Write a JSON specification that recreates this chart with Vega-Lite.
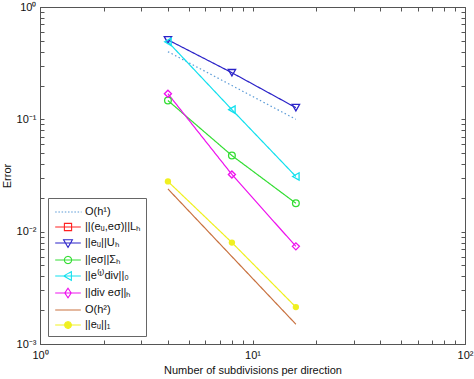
{
  "$schema": "https://vega.github.io/schema/vega-lite/v6.json",
  "autosize": "none",
  "width": 425,
  "height": 337,
  "padding": {"left": 40, "top": 7, "right": 9, "bottom": 35},
  "background": "white",
  "config": {
    "font": "Liberation Sans",
    "view": {"stroke": "#555555", "strokeWidth": 1},
    "axis": {"grid": false, "domainColor": "#555555", "tickColor": "#555555", "labelColor": "#111111", "titleColor": "#111111", "labelFont": "Liberation Sans", "titleFont": "Liberation Sans", "labelFontSize": 11, "titleFontSize": 11, "titleFontWeight": "normal"},
    "legend": {"orient": "bottom-left", "offset": 8, "padding": 5, "strokeColor": "#666666", "fillColor": "white", "symbolSize": 256, "symbolStrokeWidth": 1.1, "symbolOffset": 6, "rowPadding": 1, "labelOffset": 8, "labelFont": "Liberation Sans", "labelFontSize": 11, "labelColor": "#111111"}
  },
  "data": {"values": [
    {"series": "O(h¹)", "n": 4, "err": 0.4},
    {"series": "O(h¹)", "n": 8, "err": 0.2},
    {"series": "O(h¹)", "n": 16, "err": 0.1},
    {"series": "||eᵤ||Uₕ", "n": 4, "err": 0.51},
    {"series": "||eᵤ||Uₕ", "n": 8, "err": 0.26},
    {"series": "||eᵤ||Uₕ", "n": 16, "err": 0.127},
    {"series": "||eσ||Σₕ", "n": 4, "err": 0.147},
    {"series": "||eσ||Σₕ", "n": 8, "err": 0.0476},
    {"series": "||eσ||Σₕ", "n": 16, "err": 0.0179},
    {"series": "||e⁽¹⁾div||₀", "n": 4, "err": 0.49},
    {"series": "||e⁽¹⁾div||₀", "n": 8, "err": 0.122},
    {"series": "||e⁽¹⁾div||₀", "n": 16, "err": 0.031},
    {"series": "||div eσ||ₕ", "n": 4, "err": 0.169},
    {"series": "||div eσ||ₕ", "n": 8, "err": 0.0323},
    {"series": "||div eσ||ₕ", "n": 16, "err": 0.0074},
    {"series": "O(h²)", "n": 4, "err": 0.024},
    {"series": "O(h²)", "n": 8, "err": 0.006},
    {"series": "O(h²)", "n": 16, "err": 0.0015},
    {"series": "||eᵤ||₁", "n": 4, "err": 0.028},
    {"series": "||eᵤ||₁", "n": 8, "err": 0.008},
    {"series": "||eᵤ||₁", "n": 16, "err": 0.00213}
  ]},
  "layer": [
    {
      "mark": {"type": "line", "strokeWidth": 1.2},
      "encoding": {
        "x": {"field": "n", "type": "quantitative", "scale": {"type": "log", "domain": [1, 100]},
          "axis": {"orient": "bottom", "title": "Number of subdivisions per direction", "values": [1,2,3,4,5,6,7,8,9,10,20,30,40,50,60,70,80,90,100], "labelExpr": "datum.value == 1 ? '10⁰' : datum.value == 10 ? '10¹' : datum.value == 100 ? '10²' : ''", "tickSize": -4, "labelPadding": 9, "titlePadding": 4, "labelFlush": false}},
        "y": {"field": "err", "type": "quantitative", "scale": {"type": "log", "domain": [0.001, 1]},
          "axis": {"orient": "left", "title": "Error", "values": [0.001,0.002,0.003,0.004,0.005,0.006,0.007,0.008,0.009,0.01,0.02,0.03,0.04,0.05,0.06,0.07,0.08,0.09,0.1,0.2,0.3,0.4,0.5,0.6,0.7,0.8,0.9,1], "labelExpr": "datum.value == 1 ? '10⁰' : datum.value == 0.1 ? '10⁻¹' : datum.value == 0.01 ? '10⁻²' : datum.value == 0.001 ? '10⁻³' : ''", "tickSize": -4, "labelPadding": 8, "titlePadding": 4, "labelFlush": false}},
        "stroke": {"field": "series", "type": "nominal", "legend": {"title": null},
          "scale": {"domain": ["O(h¹)", "||(eᵤ,eσ)||Lₕ", "||eᵤ||Uₕ", "||eσ||Σₕ", "||e⁽¹⁾div||₀", "||div eσ||ₕ", "O(h²)", "||eᵤ||₁"],
                    "range": ["#5a9ad6", "#ff2020", "#2a22c8", "#33dd33", "#11e0ee", "#ee11ee", "#c8713f", "#f0f020"]}},
        "strokeDash": {"field": "series", "type": "nominal", "legend": {"title": null},
          "scale": {"domain": ["O(h¹)", "||(eᵤ,eσ)||Lₕ", "||eᵤ||Uₕ", "||eσ||Σₕ", "||e⁽¹⁾div||₀", "||div eσ||ₕ", "O(h²)", "||eᵤ||₁"],
                    "range": [[1.5, 2.5], [1, 0], [1, 0], [1, 0], [1, 0], [1, 0], [1, 0], [1, 0]]}},
        "order": {"field": "n", "type": "quantitative"}
      }
    },
    {
      "transform": [{"filter": "datum.series == '||eᵤ||Uₕ'"}],
      "mark": {"type": "point", "shape": "triangle-down", "strokeWidth": 1.3, "size": 55, "fill": "transparent", "opacity": 1},
      "encoding": {
        "x": {"field": "n", "type": "quantitative", "axis": {"orient": "top", "title": null, "values": [1,2,3,4,5,6,7,8,9,10,20,30,40,50,60,70,80,90,100], "labelExpr": "''", "ticks": true, "tickSize": -4, "tickColor": "#555555", "domain": false, "zindex": 1}},
        "y": {"field": "err", "type": "quantitative", "axis": {"orient": "right", "title": null, "values": [0.001,0.002,0.003,0.004,0.005,0.006,0.007,0.008,0.009,0.01,0.02,0.03,0.04,0.05,0.06,0.07,0.08,0.09,0.1,0.2,0.3,0.4,0.5,0.6,0.7,0.8,0.9,1], "labelExpr": "''", "ticks": true, "tickSize": -4, "tickColor": "#555555", "domain": false, "zindex": 1}},
        "stroke": {"field": "series", "type": "nominal", "legend": {"title": null}}
      }
    },
    {
      "transform": [{"filter": "datum.series == '||eσ||Σₕ'"}],
      "mark": {"type": "point", "shape": "circle", "strokeWidth": 1.3, "size": 45, "fill": "transparent", "opacity": 1},
      "encoding": {
        "x": {"field": "n", "type": "quantitative", "axis": null},
        "y": {"field": "err", "type": "quantitative", "axis": null},
        "stroke": {"field": "series", "type": "nominal", "legend": {"title": null}}
      }
    },
    {
      "transform": [{"filter": "datum.series == '||e⁽¹⁾div||₀'"}],
      "mark": {"type": "point", "shape": "triangle-left", "strokeWidth": 1.3, "size": 55, "fill": "transparent", "opacity": 1},
      "encoding": {
        "x": {"field": "n", "type": "quantitative", "axis": null},
        "y": {"field": "err", "type": "quantitative", "axis": null},
        "stroke": {"field": "series", "type": "nominal", "legend": {"title": null}}
      }
    },
    {
      "transform": [{"filter": "datum.series == '||div eσ||ₕ'"}],
      "mark": {"type": "point", "shape": "diamond", "strokeWidth": 1.3, "size": 50, "fill": "transparent", "opacity": 1},
      "encoding": {
        "x": {"field": "n", "type": "quantitative", "axis": null},
        "y": {"field": "err", "type": "quantitative", "axis": null},
        "stroke": {"field": "series", "type": "nominal", "legend": {"title": null}}
      }
    },
    {
      "transform": [{"filter": "datum.series == '||eᵤ||₁'"}],
      "mark": {"type": "point", "shape": "circle", "strokeWidth": 1.3, "size": 40, "filled": true, "opacity": 1},
      "encoding": {
        "x": {"field": "n", "type": "quantitative", "axis": null},
        "y": {"field": "err", "type": "quantitative", "axis": null},
        "color": {"value": "#f0f020"}
      }
    },
    {
      "transform": [{"filter": "datum.n > 1000"}],
      "mark": {"type": "point", "strokeWidth": 1.1, "opacity": 1},
      "encoding": {
        "x": {"field": "n", "type": "quantitative", "axis": null},
        "y": {"field": "err", "type": "quantitative", "axis": null},
        "stroke": {"field": "series", "type": "nominal", "legend": {"title": null}},
        "fill": {"field": "series", "type": "nominal",
          "scale": {"domain": ["O(h¹)", "||(eᵤ,eσ)||Lₕ", "||eᵤ||Uₕ", "||eσ||Σₕ", "||e⁽¹⁾div||₀", "||div eσ||ₕ", "O(h²)", "||eᵤ||₁"],
                    "range": ["transparent", "transparent", "transparent", "transparent", "transparent", "transparent", "transparent", "#f0f020"]},
          "legend": {"title": null}},
        "shape": {"field": "series", "type": "nominal",
          "scale": {"domain": ["O(h¹)", "||(eᵤ,eσ)||Lₕ", "||eᵤ||Uₕ", "||eσ||Σₕ", "||e⁽¹⁾div||₀", "||div eσ||ₕ", "O(h²)", "||eᵤ||₁"],
                    "range": [
                      "M-1.6,0H-1.4M-1.2,0H-1M-0.8,0H-0.6M-0.4,0H-0.2M0,0H0.2M0.4,0H0.6M0.8,0H1M1.2,0H1.4M1.6,0H1.7",
                      "M-1.6,0H1.6M-0.45,-0.45H0.45V0.45H-0.45Z",
                      "M-1.6,0H1.6M-0.55,-0.4L0.55,-0.4L0,0.55Z",
                      "M-1.6,0H1.6M0.45,0A0.45,0.45,0,1,1,-0.45,0A0.45,0.45,0,1,1,0.45,0Z",
                      "M-1.6,0H1.6M0.42,-0.55L0.42,0.55L-0.55,0Z",
                      "M-1.6,0H1.6M0,-0.6L0.4,0L0,0.6L-0.4,0Z",
                      "M-1.6,0H1.6",
                      "M-1.6,0H1.6M0.42,0A0.42,0.42,0,1,1,-0.42,0A0.42,0.42,0,1,1,0.42,0Z"
                    ]},
          "legend": {"title": null}}
      }
    }
  ],
  "resolve": {"axis": {"x": "independent", "y": "independent"}}
}
